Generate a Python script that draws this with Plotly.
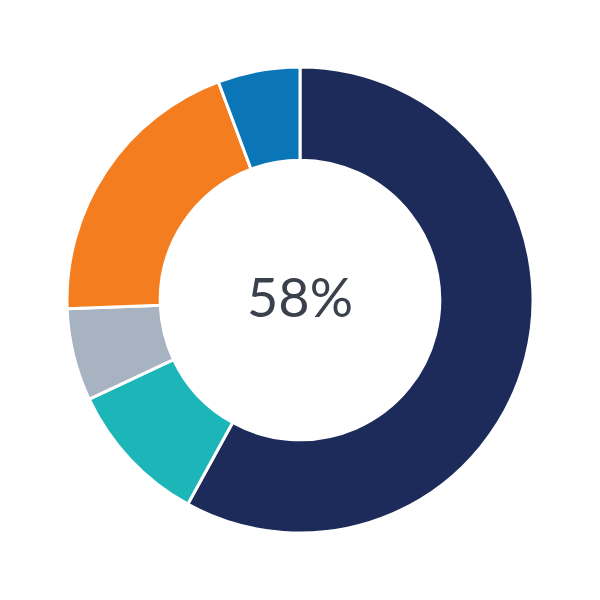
import plotly.graph_objects as go

labels = ["A", "B", "C", "D", "E"]
values = [58, 10, 6.4, 19.9, 5.7]
colors = ["#1c2b5a", "#1db6b8", "#a7b3c0", "#f47d20", "#0a76b7"]
center_text = "58%"

fig = go.Figure()
fig.add_trace(go.Pie(
    labels=labels,
    values=values,
    hole=0.6,
    sort=False,
    direction="clockwise",
    rotation=0,
    textinfo="none",
    hoverinfo="label+percent",
    marker=dict(colors=colors, line=dict(color="white", width=3)),
))

# label in the hole
fig.add_annotation(
    text=center_text, x=0.5, y=0.5, xref="paper", yref="paper",
    showarrow=False, yshift=4,
    font=dict(family="Lato, sans-serif", size=54, color="#3a414c"),
)

fig.update_layout(
    width=600, height=600,
    margin=dict(l=59, r=75, t=59, b=75),
    showlegend=False,
    paper_bgcolor="white",
    plot_bgcolor="white",
)
fig.write_html("out.html")
